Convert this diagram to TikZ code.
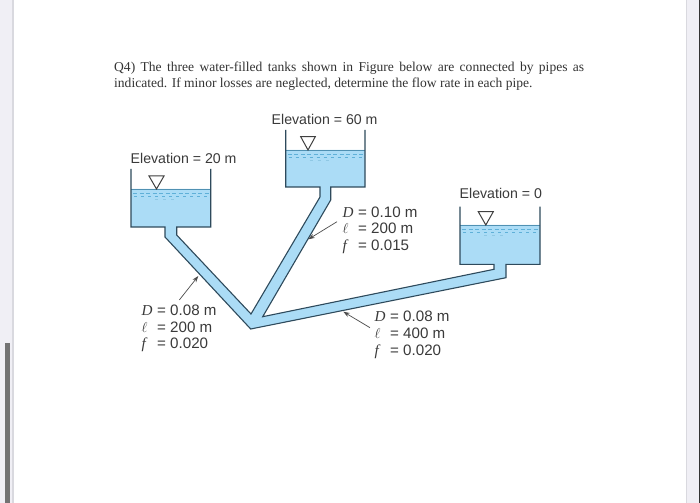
\documentclass[tikz,border=0pt]{standalone}
\usepackage{fontspec}
\setmainfont{Liberation Serif}
\setsansfont{Liberation Sans}
\usetikzlibrary{arrows.meta}
\definecolor{water}{HTML}{ABDCF6}
\definecolor{wall}{HTML}{2E4A5C}
\definecolor{ink}{HTML}{3A3A3A}
\definecolor{ripple}{HTML}{5FB0D8}
\definecolor{strip}{HTML}{F0EFF5}
\definecolor{stripline}{HTML}{D9D9DF}
\tikzset{
  outline/.style={draw=wall,line width=1.1bp,line join=miter},
  level/.style={draw=ripple!70!wall,line width=0.9bp},
  rippleline/.style={draw=ripple,line width=0.9bp,dash pattern=on 4bp off 2.5bp},
  surface/.style={draw=black!75,line width=1bp,fill=white,line join=miter},
  callout/.style={draw=black!70,line width=0.7bp,-{Stealth[length=6.5bp,width=4.5bp]}},
  question/.style={anchor=base west,inner sep=0pt,text=black!80,font=\fontsize{13.6}{16}\selectfont},
  figlabel/.style={anchor=base west,inner sep=0pt,text=ink,font=\sffamily\fontsize{14.2}{17}\selectfont},
  datalabel/.style={anchor=base west,inner sep=0pt,text=ink,font=\sffamily\fontsize{15.2}{18}\selectfont},
}
\newcommand{\lab}[1]{\makebox[15.5bp][l]{#1}}
\newcommand{\tankwater}[3]{% left x, right x, level y
  \draw[level] (#1,#3) -- (#2,#3);
  \draw[rippleline] (#1+2,#3+4) -- (#2-2,#3+4);
  \draw[rippleline,dash pattern=on 3bp off 4bp] (#1+3,#3+7) -- (#2-3,#3+7);
  \draw[rippleline,dash pattern=on 3bp off 5bp,draw=ripple!70] (#1+24,#3+10.5) -- (#1+44,#3+10.5);
}
\begin{document}
\begin{tikzpicture}[x=1bp,y=-1bp]
\useasboundingbox (0,0) rectangle (700,503);
\fill[white] (0,0) rectangle (700,503);
% page edges
\fill[strip] (0,0) rectangle (14,503);
\fill[stripline] (12,0) rectangle (14,503);
\fill[strip] (686,0) rectangle (699,503);
\fill[stripline] (685.5,0) rectangle (687,503);
\fill[black!80] (699,0) rectangle (700,503);
\fill[black!55] (5,343) rectangle (10,503);
% question text
\node[question] (q1) at (114,72) {\makebox[470bp][s]{Q4) The three water-filled tanks shown in Figure below are connected by pipes as}};
\node[question] (q2) at (114,88) {indicated. If minor losses are neglected, determine the flow rate in each pipe.};
% water
\fill[water] (131,189) -- (131,227) -- (165,227) -- (165,237) -- (250.7,329) -- (506,277.7) -- (506,264.3)
  -- (540,264.3) -- (540,225) -- (460,225) -- (460,264.3) -- (494,264.3) -- (494,269.3) -- (262.7,316.7)
  -- (330.7,200) -- (330.7,187) -- (365,187) -- (365,150) -- (285.7,150) -- (285.7,187) -- (320,187)
  -- (320,197) -- (251,314) -- (176.7,235) -- (176.7,227) -- (210.7,227) -- (210.7,189) -- cycle;
\tankwater{131}{210.7}{189}
\tankwater{285.7}{365}{150}
\tankwater{460}{540}{225}
% walls
\draw[outline] (131,169) -- (131,227) -- (165,227) -- (165,237) -- (250.7,329) -- (506,277.7) -- (506,264.3) -- (540,264.3) -- (540,206.7);
\draw[outline] (210.7,169) -- (210.7,227) -- (176.7,227) -- (176.7,235) -- (251,314) -- (320,197) -- (320,187) -- (285.7,187) -- (285.7,130);
\draw[outline] (365,130) -- (365,187) -- (330.7,187) -- (330.7,200) -- (262.7,316.7) -- (494,269.3) -- (494,264.3) -- (460,264.3) -- (460,206.7);
% free surface marks
\draw[surface] (149,176) -- (164,176) -- (156.5,189) -- cycle;
\draw[surface] (300.7,136.7) -- (315.3,136.7) -- (308,150) -- cycle;
\draw[surface] (478.3,211.7) -- (493.3,211.7) -- (485.8,225) -- cycle;
% elevations
\node[figlabel] (e60) at (271.5,124.5) {Elevation = 60 m};
\node[figlabel] (e20) at (130.5,163.2) {Elevation = 20 m};
\node[figlabel] (e0) at (459.5,198.5) {Elevation = 0};
% pipe data: middle
\node[datalabel] (md) at (342.5,217.7) {\lab{\rmfamily\itshape D}= 0.10 m};
\node[datalabel] (ml) at (342.5,234) {\lab{$\ell$}= 200 m};
\node[datalabel] (mf) at (342.5,250.3) {\lab{\rmfamily\itshape f}= 0.015};
% pipe data: left
\node[datalabel] (ld) at (141.5,315.3) {\lab{\rmfamily\itshape D}= 0.08 m};
\node[datalabel] (ll) at (141.5,332) {\lab{$\ell$}= 200 m};
\node[datalabel] (lf) at (141.5,348.7) {\lab{\rmfamily\itshape f}= 0.020};
% pipe data: right
\node[datalabel] (rd) at (374.5,321.7) {\lab{\rmfamily\itshape D}= 0.08 m};
\node[datalabel] (rl) at (374.5,338.3) {\lab{$\ell$}= 400 m};
\node[datalabel] (rf) at (374.5,355) {\lab{\rmfamily\itshape f}= 0.020};
% callouts
\coordinate (mtip) at (308.3,239.3);
\coordinate (ltip) at (198.3,276);
\coordinate (rtip) at (343.3,311.7);
\coordinate (mfoot) at (337,221.7);
\coordinate (lfoot) at (179.3,300);
\coordinate (rfoot) at (370,327.7);
\draw[callout] (mfoot) -- (mtip);
\draw[callout] (lfoot) -- (ltip);
\draw[callout] (rfoot) -- (rtip);
\end{tikzpicture}
\end{document}
